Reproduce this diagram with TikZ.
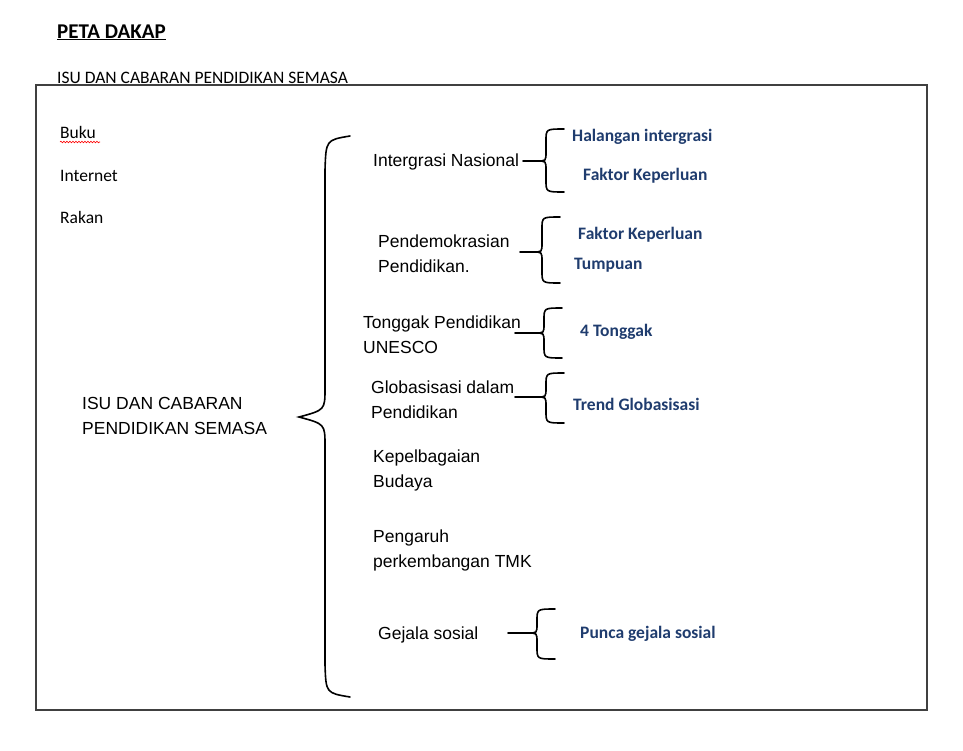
\documentclass[tikz,border=0pt]{standalone}
\usepackage{fontspec}
\setmainfont{Carlito}
\newfontfamily\arial{Liberation Sans}
\usepackage{xcolor}
\usetikzlibrary{decorations.pathmorphing}
\definecolor{birugelap}{HTML}{1F3C6E}
\newcommand{\kurung}[5]{% tip x, spine x, top y, mid y, bottom y
  \draw[garis] (#2+18,#3) .. controls (#2,#3) .. (#2,#3+12) -- (#2,#4-9) .. controls (#2,#4) .. (#2-9,#4) -- (#1,#4);
  \draw[garis] (#2-9,#4) .. controls (#2,#4) .. (#2,#4+9) -- (#2,#5-12) .. controls (#2,#5) .. (#2+18,#5);
}
\tikzset{
  garis/.style={line width=1.6pt, line cap=round},
  perkara/.style={anchor=base west, inner sep=0pt, align=left, font=\arial\fontsize{17.5}{25}\selectfont},
  huraian/.style={anchor=base west, inner sep=0pt, text=birugelap, font=\bfseries\fontsize{17.5}{21}\selectfont},
  sumber/.style={anchor=base west, inner sep=0pt, font=\fontsize{17.5}{21}\selectfont}
}
\begin{document}
\begin{tikzpicture}[x=1pt,y=-1pt]
  \useasboundingbox (0,0) rectangle (963,750);
  % tajuk
  \node[anchor=base west, inner sep=0pt, font=\bfseries\fontsize{21}{25}\selectfont] (tajuk) at (57,38) {\underline{PETA DAKAP}};
  \node[sumber] (subtajuk) at (57,83) {ISU DAN CABARAN PENDIDIKAN SEMASA};
  \draw[line width=1.2pt, black!75] (36,85) rectangle (927,710);
  % sumber rujukan
  \node[sumber] (buku) at (60,138) {Buku};
  \draw[red, line width=0.6pt, decorate, decoration={snake, amplitude=0.8pt, segment length=3pt}] (buku.base west) ++(0,4) -- ++(40,0);
  \node[sumber] (internet) at (60,181) {Internet};
  \node[sumber] (rakan) at (60,223) {Rakan};
  % isu utama (base = baris terakhir)
  \node[perkara] (isu) at (82,434) {ISU DAN CABARAN\\PENDIDIKAN SEMASA};
  \draw[garis] (350,136) .. controls (326,140) .. (325,170) -- (325,388) .. controls (325,410) .. (299,417)
    .. controls (325,424) .. (325,446) -- (325,665) .. controls (326,693) .. (350,697);
  % cabang
  \node[perkara] (integrasi) at (373,166) {Intergrasi Nasional};
  \node[perkara] (demokrasi) at (378,272) {Pendemokrasian\\Pendidikan.};
  \node[perkara] (tonggak) at (363,353) {Tonggak Pendidikan\\UNESCO};
  \node[perkara] (globa) at (371,418) {Globasisasi dalam\\Pendidikan};
  \node[perkara] (budaya) at (373,487) {Kepelbagaian\\Budaya};
  \node[perkara] (tmk) at (373,567) {Pengaruh\\perkembangan TMK};
  \node[perkara] (gejala) at (378,639) {Gejala sosial};
  % kurung kecil
  \kurung{523}{546}{129}{161}{192}
  \kurung{520}{542}{217}{252}{283}
  \kurung{515}{544}{308}{333}{358}
  \kurung{515}{546}{373}{397}{423}
  \kurung{508}{537}{609}{633}{659}
  % huraian
  \node[huraian] (halangan) at (572,141) {Halangan intergrasi};
  \node[huraian] (faktor1) at (583,180) {Faktor Keperluan};
  \node[huraian] (faktor2) at (578,239) {Faktor Keperluan};
  \node[huraian] (tumpuan) at (574,269) {Tumpuan};
  \node[huraian] (empat) at (580,336) {4 Tonggak};
  \node[huraian] (trend) at (573,410) {Trend Globasisasi};
  \node[huraian] (punca) at (580,638) {Punca gejala sosial};
\end{tikzpicture}
\end{document}
